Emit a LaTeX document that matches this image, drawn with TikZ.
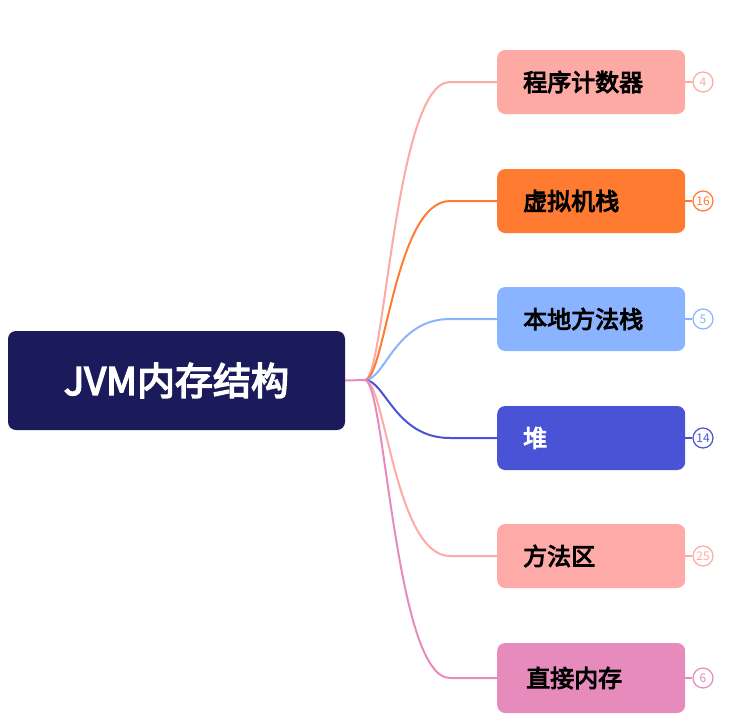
\documentclass[tikz,border=0pt]{standalone}
\usepackage{fontspec}
\setmainfont{Noto Sans CJK SC}[AutoFakeBold=4]
\begin{document}
\begin{tikzpicture}[x=1pt,y=-1pt,
 box/.style={rounded corners=8pt,minimum width=188pt,minimum height=64pt,text width=136pt,inner xsep=25pt,align=left,font=\fontsize{24}{28}\selectfont\bfseries,anchor=west},
 cnt/.style={circle,draw,line width=1.2pt,fill=white,minimum size=20pt,inner sep=0pt,font=\fontsize{12}{12}\selectfont},
 br/.style={line width=2pt}]
\useasboundingbox (0,0) rectangle (736,723);
\definecolor{c1}{HTML}{FDA9A4}\definecolor{c2}{HTML}{FF7B32}\definecolor{c3}{HTML}{8AB4FF}
\definecolor{c4}{HTML}{4A52D6}\definecolor{c5}{HTML}{FDAAA8}\definecolor{c6}{HTML}{E68BBC}
\node[rounded corners=8pt,fill={rgb,255:red,27;green,26;blue,90},minimum width=337pt,minimum height=99pt,text=white,font=\fontsize{38}{42}\selectfont\bfseries] (root) at (176.5,380.5) {JVM内存结构};
\coordinate (hub) at (365,380);
\draw[br,c6] (root.east) -- (hub);
\foreach \n/\y/\c/\t/\tc/\k/\h in {a/82/c1/程序计数器/black/4/64, b/201/c2/虚拟机栈/black/16/64, c/319/c3/本地方法栈/black/5/64, d/438/c4/堆/white/14/64, e/556/c5/方法区/black/25/64, f/678/c6/\hspace*{3pt}直接内存/black/6/70}{
 \node[box,fill=\c,text=\tc,minimum height=\h pt] (\n) at (497,\y) {\t};
 \node[cnt,draw=\c,text=\c] (\n k) at (703,\y) {\k};
 \draw[br,\c] (\n.east) -- (\n k.west);
 \draw[br,\c] (hub) .. controls (385,380) and (395,\y) .. (450,\y) -- (\n.west);
}
\end{tikzpicture}
\end{document}
